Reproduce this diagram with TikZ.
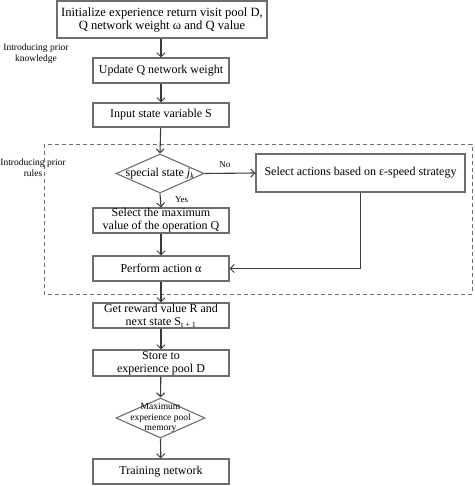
\documentclass[tikz,border=0pt]{standalone}
\usepackage{fontspec}
\setmainfont{Liberation Serif}
\usetikzlibrary{shapes.geometric,arrows.meta}
\definecolor{edge}{HTML}{3A3A3A}
\definecolor{frame}{HTML}{6E6E6E}
\tikzset{
  x=1pt, y=-1pt,
  box/.style={draw=frame, line width=1.1pt, fill=white, inner sep=0pt, align=center,
     font=\fontsize{12}{13}\selectfont, text=black},
  decision/.style={draw=frame, line width=1.1pt, fill=white, diamond, inner sep=0pt, shape aspect=2.2},
  arr/.style={draw=edge, line width=1.1pt, -{Straight Barb[length=4pt,width=8pt,line width=1pt]}},
  note/.style={font=\fontsize{9.5}{11}\selectfont, align=center, inner sep=0pt, text=black},
  smalllab/.style={font=\fontsize{9}{10}\selectfont, inner sep=0pt, text=black},
}
\begin{document}
\begin{tikzpicture}
\useasboundingbox (0,0) rectangle (474,486);
% dashed region
\draw[frame, line width=0.9pt, dash pattern=on 4pt off 3pt] (44,144) rectangle (472,294);

\node[box, minimum width=210pt, minimum height=37pt, font=\fontsize{12.6}{13}\selectfont] (init) at (162,19.5)
  {Initialize experience return visit pool D,\\Q network weight ω and Q value};
\node[box, minimum width=136pt, minimum height=25pt] (upd) at (161,70.5) {Update Q network weight};
\node[box, minimum width=136pt, minimum height=24pt] (inp) at (161,115) {Input state variable S};
\node[decision, minimum width=88pt, minimum height=39pt,
  label={[font=\fontsize{12}{13}\selectfont, inner sep=0pt]center:special state \textit{j}\textit{\textsubscript{k}}}] (spec) at (160,173.5) {};
\node[box, minimum width=209pt, minimum height=38pt] (sela) at (360.5,173) {Select actions based on ε-speed strategy};
\node[box, minimum width=136pt, minimum height=25pt] (selm) at (161,220.5) {Select the maximum\\value of the operation Q};
\node[box, minimum width=136pt, minimum height=25pt] (perf) at (161,268.5) {Perform action α};
\node[box, minimum width=136pt, minimum height=25pt] (rew) at (161,315.5) {Get reward value R and\\next state S\textsubscript{t + 1}};
\node[box, minimum width=136pt, minimum height=26pt] (store) at (161,363) {Store to\\experience pool D};
\node[decision, minimum width=89pt, minimum height=40pt,
  label={[font=\fontsize{9.5}{10.5}\selectfont, inner sep=0pt, align=center]center:Maximum\\experience pool\\memory}] (maxd) at (160.5,418) {};
\node[box, minimum width=136pt, minimum height=25pt] (train) at (161,471.5) {Training network};

\node[note] (k1) at (36,53.5) {Introducing prior\\knowledge};
\node[note] (k2) at (33,167.5) {Introducing prior\\rules};

\coordinate (turn) at (sela.south |- perf.east);

\draw[arr] (init.south -| upd.north) -- (upd);
\draw[arr] (upd) -- (inp);
\draw[arr] (inp) -- (spec.north);
\draw[arr] (spec.east) -- node[smalllab, above=5pt, pos=0.4] (no) {No} (sela.west);
\draw[arr] (spec.south) -- node[smalllab, right=14pt, pos=0.45] (yes) {Yes} (selm.north);
\draw[arr] (selm) -- (perf);
\draw[arr] (sela.south) -- (turn) -- (perf.east);
\draw[arr] (perf) -- (rew);
\draw[arr] (rew) -- (store);
\draw[arr] (store) -- (maxd.north);
\draw[arr] (maxd.south) -- (train);
\end{tikzpicture}
\end{document}
